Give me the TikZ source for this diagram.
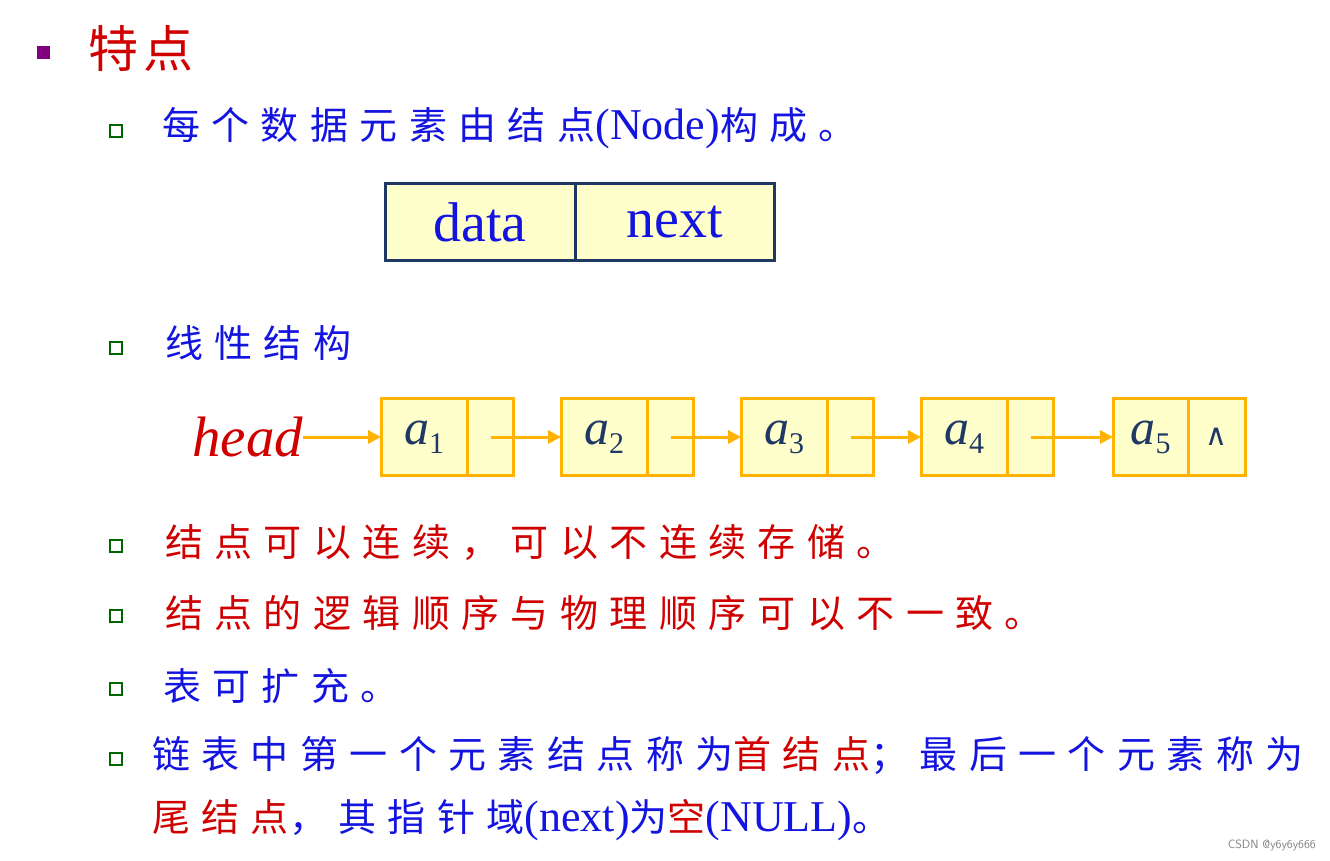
\documentclass[tikz,border=0pt]{standalone}
\usepackage{fontspec}
\setmainfont{Liberation Serif}
\newfontfamily\cjk[LetterSpace=30]{Noto Sans CJK SC}
\newfontfamily\cjkh[LetterSpace=10]{Noto Sans CJK SC}
\newfontfamily\djvfont{DejaVu Sans}
\newcommand{\cj}[1]{{\cjk #1}}
\newcommand{\ai}[1]{a\raisebox{-9pt}{\fontsize{30}{32}\selectfont\upshape #1}}
\usetikzlibrary{arrows.meta}
\definecolor{tblue}{HTML}{1414E0}
\definecolor{tred}{HTML}{D00000}
\definecolor{tgreen}{HTML}{006600}
\definecolor{tpurple}{HTML}{800080}
\definecolor{navy}{HTML}{1F3864}
\definecolor{lyel}{HTML}{FFFFCC}
\definecolor{orng}{HTML}{FFB300}
\tikzset{
  txt/.style={anchor=west,inner sep=0pt,font=\fontsize{38}{40}\selectfont},
  gbul/.style={draw=tgreen,line width=2pt,minimum size=12pt,inner sep=0pt},
  nodecell/.style={draw=navy,fill=lyel,line width=3pt,minimum height=77pt,inner sep=0pt,outer sep=0pt,text=tblue,font=\fontsize{56}{58}\selectfont},
  lcell/.style={draw=orng,fill=lyel,line width=3pt,minimum height=77pt,inner sep=0pt,outer sep=0pt,text=navy,font=\fontsize{50}{52}\selectfont\itshape},
  larr/.style={draw=orng,line width=3pt,-{Triangle[length=13pt,width=13pt]}}
}
\begin{document}
\begin{tikzpicture}[x=1pt,y=-1pt]
\useasboundingbox[fill=white] (0,0) rectangle (1330,861);
\node[fill=tpurple,minimum size=13pt,inner sep=0pt] (b0) at (43,53) {};
\node[txt,text=tred,font=\fontsize{50}{52}\selectfont] (h0) at (88,48) {\cjkh 特点};
% bullets
\node[gbul] (g1) at (116,131) {};
\node[gbul] (g2) at (116,348) {};
\node[gbul] (g3) at (116,546) {};
\node[gbul] (g4) at (116,616) {};
\node[gbul] (g5) at (116,689) {};
\node[gbul] (g6) at (116,759) {};
\node[txt,text=tblue] (t1) at (162,128) {\cj{每个数据元素由结点}{\fontsize{44}{46}\selectfont(Node)}\cj{构成。}};
% node box
\node[nodecell,minimum width=190pt,anchor=west] (d) at (385,222) {data};
\node[nodecell,minimum width=199pt,anchor=west] (n) at (d.east) {next};
\node[txt,text=tblue] (t2) at (165,343) {\cj{线性结构}};
% list
\node[txt,text=tred,font=\fontsize{57}{59}\selectfont\itshape] (head) at (192,437) {head};
\node[lcell,minimum width=86pt,anchor=west] (a1) at (381,437) {\ai{1}};
\node[lcell,minimum width=46pt,anchor=west] (p1) at (a1.east) {};
\node[lcell,minimum width=86pt,anchor=west] (a2) at (561,437) {\ai{2}};
\node[lcell,minimum width=46pt,anchor=west] (p2) at (a2.east) {};
\node[lcell,minimum width=86pt,anchor=west] (a3) at (741,437) {\ai{3}};
\node[lcell,minimum width=46pt,anchor=west] (p3) at (a3.east) {};
\node[lcell,minimum width=86pt,anchor=west] (a4) at (921,437) {\ai{4}};
\node[lcell,minimum width=46pt,anchor=west] (p4) at (a4.east) {};
\node[lcell,minimum width=75pt,anchor=west] (a5) at (1113,437) {\ai{5}};
\node[lcell,minimum width=57pt,anchor=west,font=\fontsize{30}{32}\selectfont\djvfont] (p5) at (a5.east) {∧};
\draw[larr] (head.east) -- (a1.west);
\draw[larr] ([xshift=-22pt]p1.east) -- (a2.west);
\draw[larr] ([xshift=-22pt]p2.east) -- (a3.west);
\draw[larr] ([xshift=-22pt]p3.east) -- (a4.west);
\draw[larr] ([xshift=-22pt]p4.east) -- (a5.west);
% remaining lines
\node[txt,text=tred] (t3) at (165,543) {\cj{结点可以连续，可以不连续存储。}};
\node[txt,text=tred] (t4) at (165,613) {\cj{结点的逻辑顺序与物理顺序可以不一致。}};
\node[txt,text=tblue] (t5) at (163,686) {\cj{表可扩充。}};
\node[txt,text=tblue] (t6) at (152,755) {\cj{链表中第一个元素结点称为}\textcolor{tred}{\cj{首结点}}\cj{；最后一个元素称为}};
\node[txt,text=tblue] (t7) at (152,820) {\textcolor{tred}{\cj{尾结点}}\cj{，其指针域}{\fontsize{44}{46}\selectfont(next)}\cj{为}\textcolor{tred}{\cj{空}}{\fontsize{44}{46}\selectfont(NULL)}\cj{。}};
\node[anchor=east,inner sep=0pt,text=gray,font=\fontsize{12}{14}\sffamily] (w) at (1316,845) {CSDN @y6y6y666};
\end{tikzpicture}
\end{document}
